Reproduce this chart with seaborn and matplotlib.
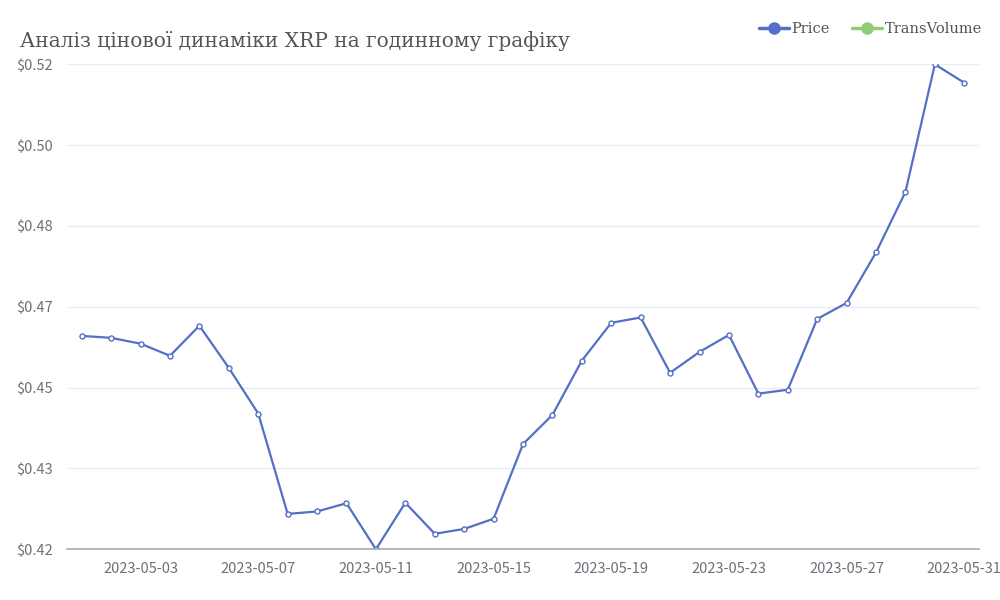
import numpy as np
import pandas as pd
import matplotlib as mpl; mpl.use("Agg")
import matplotlib.pyplot as plt
from matplotlib.lines import Line2D
import seaborn as sns

# datos
fechas = [f"2023-05-{d:02d}" for d in range(1, 32)]
precio = [0.4640, 0.4636, 0.4624, 0.4599, 0.4661, 0.4574, 0.4480, 0.4273,
          0.4278, 0.4295, 0.4200, 0.4296, 0.4232, 0.4242, 0.4263, 0.4417,
          0.4477, 0.4589, 0.4667, 0.4678, 0.4564, 0.4607, 0.4642, 0.4521,
          0.4529, 0.4675, 0.4708, 0.4812, 0.4937, 0.5200, 0.5162]
y_ticks = [0.42, 0.4367, 0.4533, 0.47, 0.4867, 0.5033, 0.52]
y_labels = ["$0.42", "$0.43", "$0.45", "$0.47", "$0.48", "$0.50", "$0.52"]
titulo = "Аналіз цінової динаміки XRP на годинному графіку"
series = ["Price", "TransVolume"]
colores = ["#5470c6", "#91cc75"]

df = pd.DataFrame({"idx": np.arange(len(fechas)), "fecha": fechas, "precio": precio})

sns.set_theme(style="white")
plt.rcParams["font.family"] = ["Noto Sans CJK SC", "DejaVu Sans"]

fig = plt.figure(figsize=(10, 6), dpi=100)
ax = fig.add_axes([0.067, 0.0845, 0.912, 0.8083])

sns.lineplot(data=df, x="idx", y="precio", ax=ax, color=colores[0], linewidth=1.6,
             marker="o", markersize=3.6, markerfacecolor="white",
             markeredgecolor=colores[0], markeredgewidth=1.0, zorder=3)

ax.set_xlim(-0.5, len(fechas) - 0.5)
ax.set_ylim(0.42, 0.52)
ax.set_xlabel("")
ax.set_ylabel("")

# eje x de categorias: marcas en los bordes, etiquetas en el centro
ax.set_xticks(np.arange(-0.5, len(fechas) - 1, 4))
ax.set_xticklabels([])
lab_idx = np.arange(2, len(fechas), 4)
ax.set_xticks(lab_idx, minor=True)
ax.set_xticklabels([fechas[i] for i in lab_idx], minor=True)
ax.tick_params(axis="x", which="major", length=5, width=1, color="#a9aab0", direction="out")
ax.tick_params(axis="x", which="minor", length=0, pad=9, labelsize=10.5, labelcolor="#6e7079")

ax.set_yticks(y_ticks)
ax.set_yticklabels(y_labels)
ax.tick_params(axis="y", length=0, pad=10, labelsize=10.5, labelcolor="#6e7079")
ax.grid(axis="y", color="#e8ecf4", linewidth=1)
ax.grid(axis="x", visible=False)
for s in ["top", "right", "left"]:
    ax.spines[s].set_visible(False)
ax.spines["bottom"].set_color("#a9aab0")
ax.spines["bottom"].set_linewidth(1.2)
ax.spines["bottom"].set_zorder(4)

fig.text(0.02, 0.922, titulo, fontsize=14.5, color="#555555",
         family=["DejaVu Serif"], va="baseline")

handles = [Line2D([0], [0], color=c, linewidth=2.5, marker="o", markersize=8,
                  markerfacecolor=c, markeredgecolor=c) for c in colores]
fig.legend(handles, series, loc="upper right", bbox_to_anchor=(0.995, 0.985), ncol=2,
           frameon=False, handlelength=2.1, handletextpad=0.15, columnspacing=1.5,
           prop={"family": "DejaVu Serif", "size": 10.5}, labelcolor="#555555")

fig.savefig("out.png", dpi=100)
print("OK -> out.png")
